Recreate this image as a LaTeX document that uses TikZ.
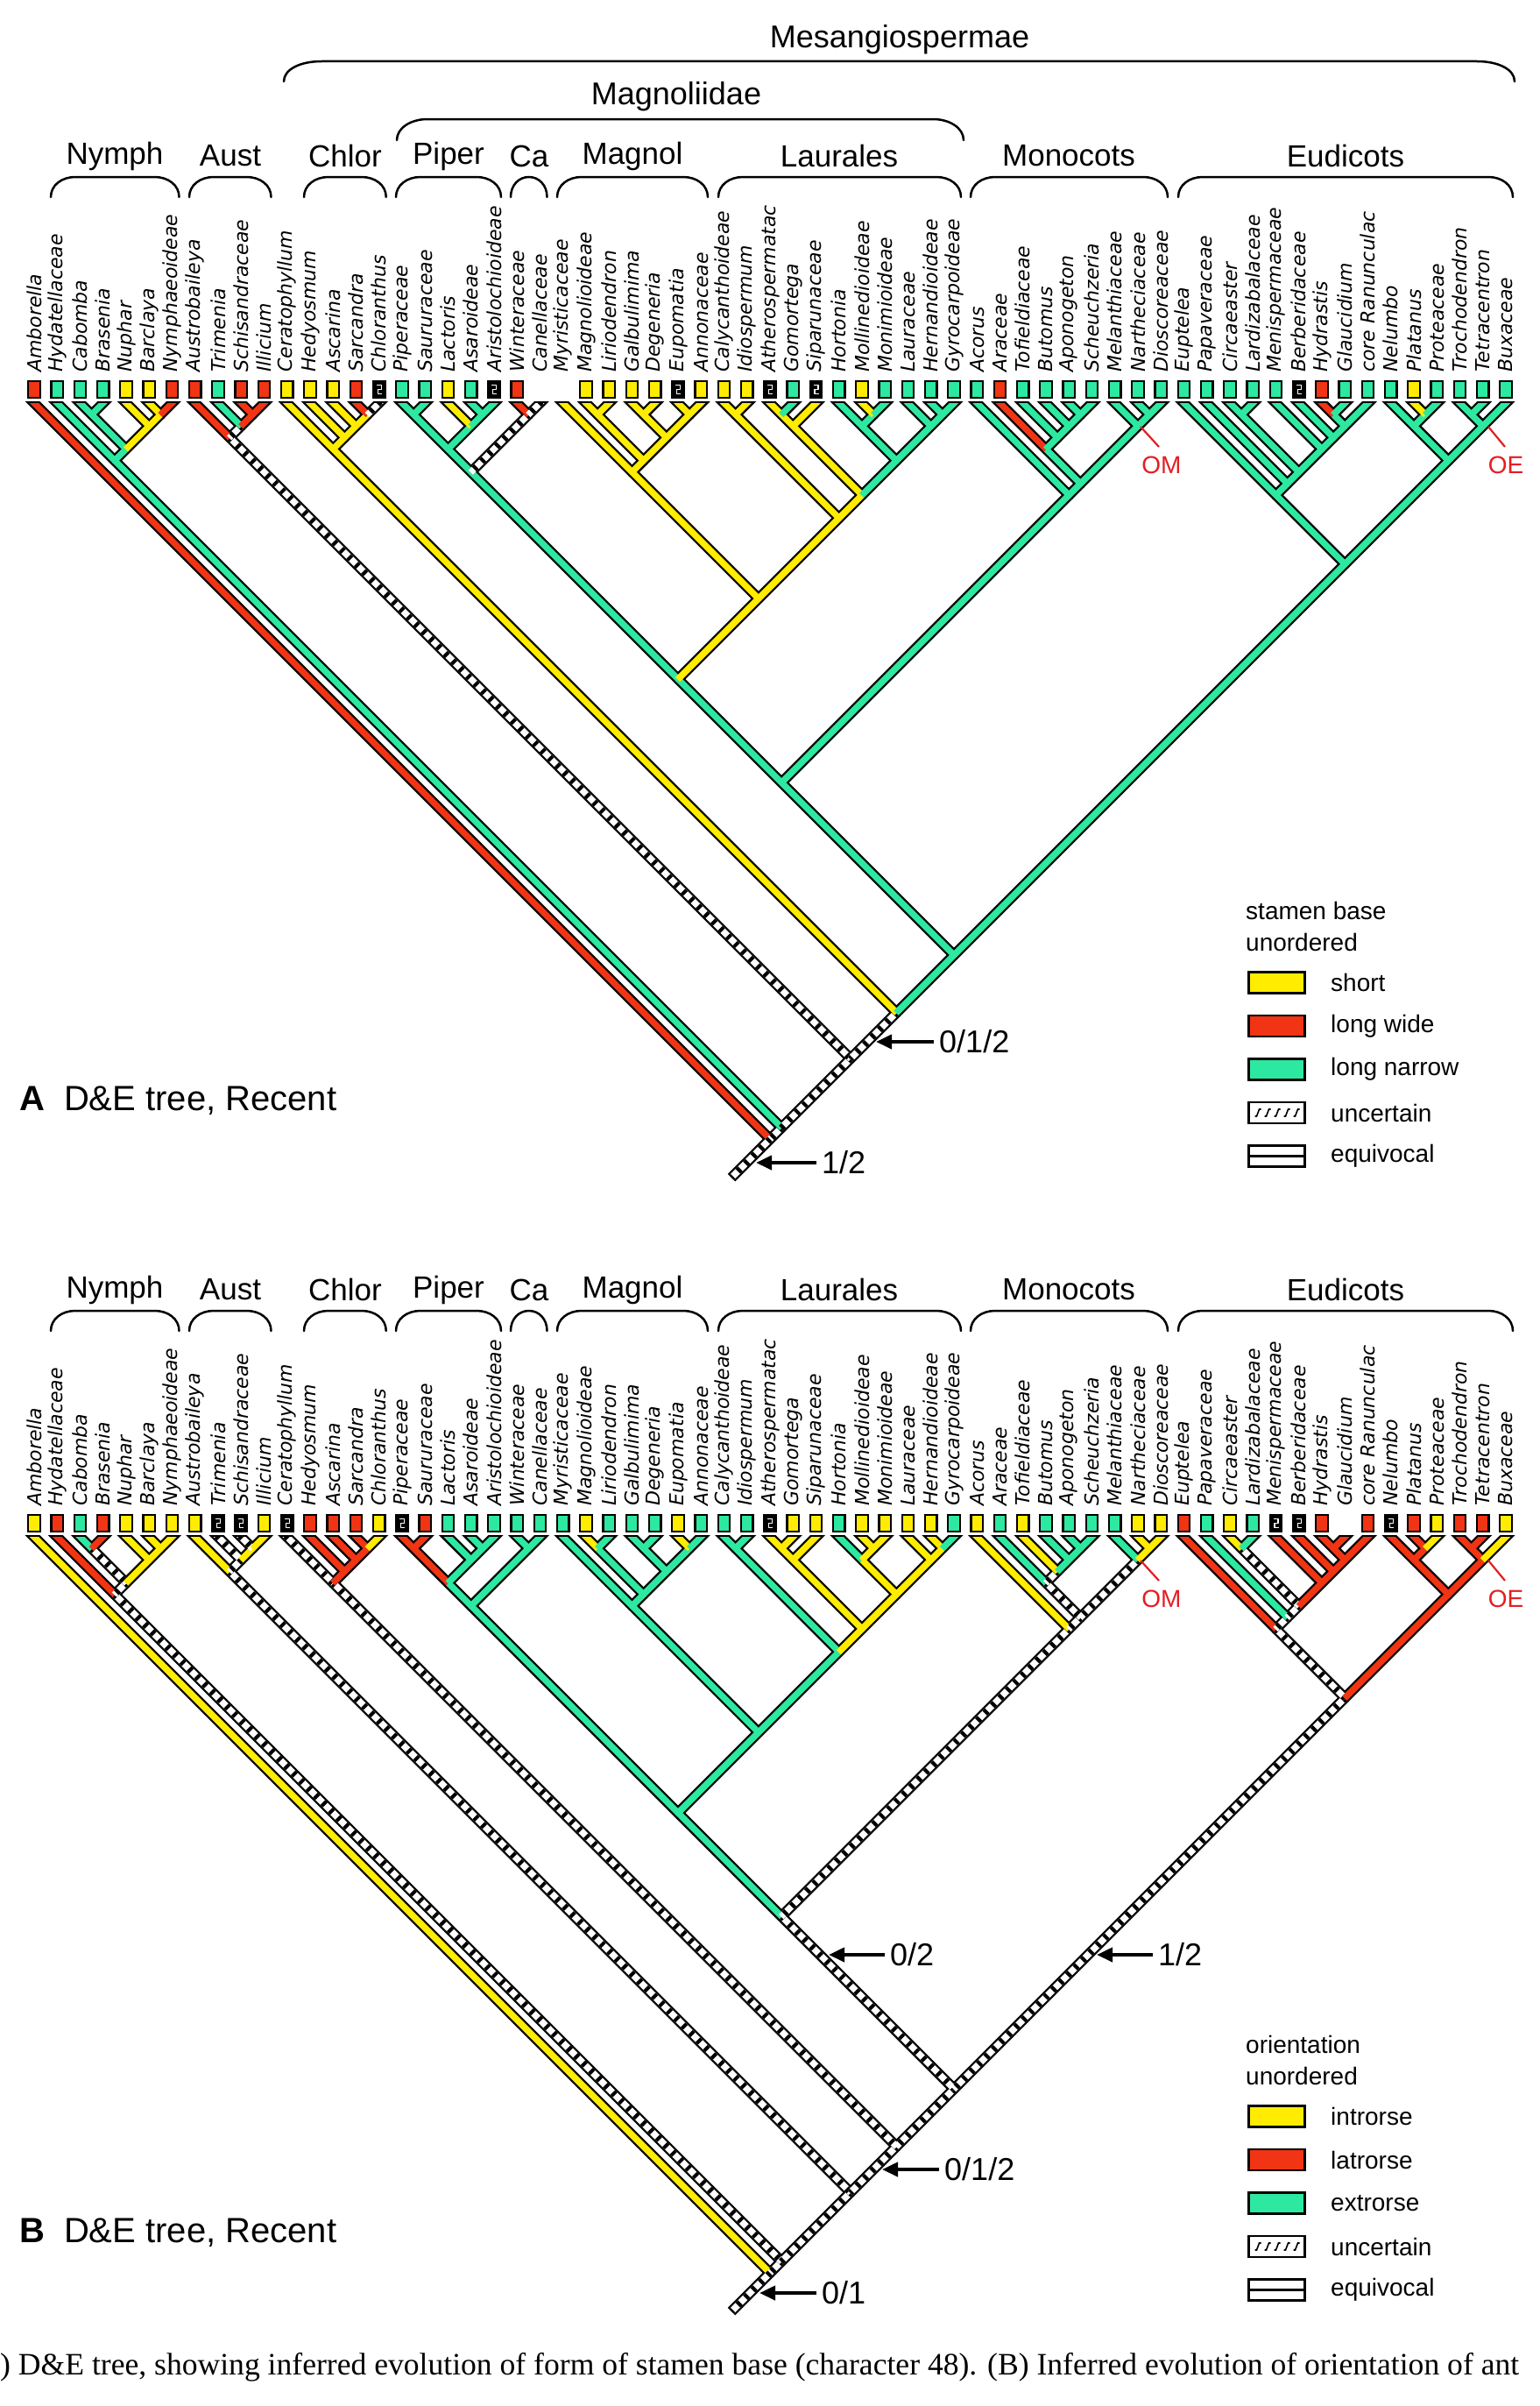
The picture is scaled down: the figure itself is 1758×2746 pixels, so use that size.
\documentclass[tikz,border=0pt]{standalone}
\usepackage{fontspec}
\setmainfont{Liberation Sans}
\newfontfamily\taxfont{DejaVu Sans}
\newfontfamily\capfont{Liberation Serif}
\usetikzlibrary{calc,arrows.meta}
\definecolor{cY}{RGB}{255,236,0}
\definecolor{cR}{RGB}{240,52,20}
\definecolor{cG}{RGB}{45,232,160}
\definecolor{cOM}{RGB}{228,30,36}

\newcommand\mknode[3]{%
  \pgfmathsetmacro\tmpx{39+(#2+#3)*13.125}%
  \pgfmathsetmacro\tmpy{460+(#3-#2)*13.125}%
  \coordinate (#1-#2-#3) at (\tmpx,\tmpy);}

\newcommand\treeA{%
\B{0}{0}{0}{64}{R}\B{1}{64}{0}{64}{H}\B{1}{6}{1}{64}{G}\B{7}{64}{1}{64}{H}
\B{1}{1}{1}{6}{G}\B{2}{6}{1}{6}{G}\B{2}{3}{2}{6}{G}\B{2}{2}{2}{3}{G}\B{3}{3}{2}{3}{G}
\B{4}{6}{2}{6}{Y}\B{4}{4}{4}{6}{Y}\B{5}{6}{4}{6}{Y}\B{5}{5}{5}{6}{Y}\B{6}{6}{5}{6}{R}
\B{7}{10}{7}{64}{H}\B{7}{7}{7}{10}{R}\B{8}{10}{7}{10}{H}\B{8}{8}{8}{10}{G}\B{9}{10}{8}{10}{R}\B{9}{9}{9}{10}{R}\B{10}{10}{9}{10}{R}
\B{11}{64}{7}{64}{H}\B{11}{15}{11}{64}{Y}\B{11}{11}{11}{15}{Y}\B{12}{15}{11}{15}{Y}\B{12}{12}{12}{15}{Y}
\B{13}{15}{12}{15}{Y}\B{13}{13}{13}{15}{Y}\B{14}{15}{13}{15}{Y}\B{14}{14}{14}{15}{R}\B{15}{15}{14}{15}{H}
\B{16}{64}{11}{64}{G}\B{16}{49}{16}{64}{G}\B{16}{40}{16}{49}{G}\B{16}{22}{16}{40}{G}\B{16}{20}{16}{22}{G}
\B{16}{17}{16}{20}{G}\B{16}{16}{16}{17}{G}\B{17}{17}{16}{17}{G}\B{18}{20}{16}{20}{G}\B{18}{18}{18}{20}{Y}
\B{19}{20}{18}{20}{G}\B{19}{19}{19}{20}{G}\B{20}{20}{19}{20}{G}
\B{21}{22}{16}{22}{H}\B{21}{21}{21}{22}{R}\B{22}{22}{21}{22}{H}
\B{23}{40}{16}{40}{Y}\B{23}{29}{23}{40}{Y}\B{23}{23}{23}{29}{Y}\B{24}{29}{23}{29}{Y}\B{24}{25}{24}{29}{Y}
\B{24}{24}{24}{25}{Y}\B{25}{25}{24}{25}{Y}\B{26}{29}{24}{29}{Y}\B{26}{27}{26}{29}{Y}\B{26}{26}{26}{27}{Y}
\B{27}{27}{26}{27}{Y}\B{28}{29}{26}{29}{Y}\B{28}{28}{28}{29}{Y}\B{29}{29}{28}{29}{Y}
\B{30}{40}{23}{40}{Y}\B{30}{31}{30}{40}{Y}\B{30}{30}{30}{31}{Y}\B{31}{31}{30}{31}{Y}\B{32}{40}{30}{40}{Y}
\B{32}{34}{32}{40}{Y}\B{32}{33}{32}{34}{Y}\B{32}{32}{32}{33}{Y}\B{33}{33}{32}{33}{G}\B{34}{34}{32}{34}{Y}
\B{35}{40}{32}{40}{G}\B{35}{37}{35}{40}{G}\B{35}{35}{35}{37}{G}\B{36}{37}{35}{37}{G}\B{36}{36}{36}{37}{Y}
\B{37}{37}{36}{37}{G}\B{38}{40}{35}{40}{G}\B{38}{38}{38}{40}{G}\B{39}{40}{38}{40}{G}\B{39}{39}{39}{40}{G}\B{40}{40}{39}{40}{G}
\B{41}{49}{16}{49}{G}\B{41}{41}{41}{49}{G}\B{42}{49}{41}{49}{G}\B{42}{46}{42}{49}{G}\B{42}{42}{42}{46}{R}
\B{43}{46}{42}{46}{G}\B{43}{43}{43}{46}{G}\B{44}{46}{43}{46}{G}\B{44}{44}{44}{46}{G}\B{45}{46}{44}{46}{G}
\B{45}{45}{45}{46}{G}\B{46}{46}{45}{46}{G}\B{47}{49}{42}{49}{G}\B{47}{47}{47}{49}{G}\B{48}{49}{47}{49}{G}
\B{48}{48}{48}{49}{G}\B{49}{49}{48}{49}{G}
\B{50}{64}{16}{64}{G}\B{50}{58}{50}{64}{G}\B{50}{50}{50}{58}{G}\B{51}{58}{50}{58}{G}\B{51}{51}{51}{58}{G}
\B{52}{58}{51}{58}{G}\B{52}{53}{52}{58}{G}\B{52}{52}{52}{53}{G}\B{53}{53}{52}{53}{G}\B{54}{58}{52}{58}{G}
\B{54}{54}{54}{58}{G}\B{55}{58}{54}{58}{G}\B{55}{55}{55}{58}{G}\B{56}{58}{55}{58}{G}\B{56}{57}{56}{58}{G}
\B{56}{56}{56}{57}{R}\B{57}{57}{56}{57}{G}\B{58}{58}{56}{58}{G}
\B{59}{64}{50}{64}{G}\B{59}{61}{59}{64}{G}\B{59}{59}{59}{61}{G}\B{60}{61}{59}{61}{G}\B{60}{60}{60}{61}{Y}
\B{61}{61}{60}{61}{G}\B{62}{64}{59}{64}{G}\B{62}{63}{62}{64}{G}\B{62}{62}{62}{63}{G}\B{63}{63}{62}{63}{G}\B{64}{64}{62}{64}{G}}

\newcommand\treeB{%
\B{0}{0}{0}{64}{Y}\B{1}{64}{0}{64}{H}\B{1}{6}{1}{64}{H}\B{7}{64}{1}{64}{H}
\B{1}{1}{1}{6}{R}\B{2}{6}{1}{6}{H}\B{2}{3}{2}{6}{H}\B{2}{2}{2}{3}{G}\B{3}{3}{2}{3}{R}
\B{4}{6}{2}{6}{Y}\B{4}{4}{4}{6}{Y}\B{5}{6}{4}{6}{Y}\B{5}{5}{5}{6}{Y}\B{6}{6}{5}{6}{Y}
\B{7}{10}{7}{64}{H}\B{7}{7}{7}{10}{Y}\B{8}{10}{7}{10}{H}\B{8}{8}{8}{10}{H}\B{9}{10}{8}{10}{Y}\B{9}{9}{9}{10}{H}\B{10}{10}{9}{10}{Y}
\B{11}{64}{7}{64}{H}\B{11}{15}{11}{64}{H}\B{11}{11}{11}{15}{H}\B{12}{15}{11}{15}{R}\B{12}{12}{12}{15}{R}
\B{13}{15}{12}{15}{R}\B{13}{13}{13}{15}{R}\B{14}{15}{13}{15}{R}\B{14}{14}{14}{15}{R}\B{15}{15}{14}{15}{Y}
\B{16}{64}{11}{64}{H}\B{16}{49}{16}{64}{H}\B{16}{40}{16}{49}{G}\B{16}{22}{16}{40}{G}\B{16}{20}{16}{22}{G}
\B{16}{17}{16}{20}{R}\B{16}{16}{16}{17}{R}\B{17}{17}{16}{17}{R}\B{18}{20}{16}{20}{G}\B{18}{18}{18}{20}{G}
\B{19}{20}{18}{20}{G}\B{19}{19}{19}{20}{G}\B{20}{20}{19}{20}{G}
\B{21}{22}{16}{22}{G}\B{21}{21}{21}{22}{G}\B{22}{22}{21}{22}{G}
\B{23}{40}{16}{40}{G}\B{23}{29}{23}{40}{G}\B{23}{23}{23}{29}{G}\B{24}{29}{23}{29}{G}\B{24}{25}{24}{29}{G}
\B{24}{24}{24}{25}{Y}\B{25}{25}{24}{25}{G}\B{26}{29}{24}{29}{G}\B{26}{27}{26}{29}{G}\B{26}{26}{26}{27}{G}
\B{27}{27}{26}{27}{G}\B{28}{29}{26}{29}{G}\B{28}{28}{28}{29}{Y}\B{29}{29}{28}{29}{G}
\B{30}{40}{23}{40}{G}\B{30}{31}{30}{40}{G}\B{30}{30}{30}{31}{G}\B{31}{31}{30}{31}{G}\B{32}{40}{30}{40}{Y}
\B{32}{34}{32}{40}{Y}\B{32}{33}{32}{34}{Y}\B{32}{32}{32}{33}{Y}\B{33}{33}{32}{33}{Y}\B{34}{34}{32}{34}{Y}
\B{35}{40}{32}{40}{Y}\B{35}{37}{35}{40}{Y}\B{35}{35}{35}{37}{G}\B{36}{37}{35}{37}{Y}\B{36}{36}{36}{37}{Y}
\B{37}{37}{36}{37}{Y}\B{38}{40}{35}{40}{Y}\B{38}{38}{38}{40}{Y}\B{39}{40}{38}{40}{Y}\B{39}{39}{39}{40}{Y}\B{40}{40}{39}{40}{G}
\B{41}{49}{16}{49}{H}\B{41}{41}{41}{49}{Y}\B{42}{49}{41}{49}{H}\B{42}{46}{42}{49}{H}\B{42}{42}{42}{46}{G}
\B{43}{46}{42}{46}{H}\B{43}{43}{43}{46}{Y}\B{44}{46}{43}{46}{G}\B{44}{44}{44}{46}{G}\B{45}{46}{44}{46}{G}
\B{45}{45}{45}{46}{G}\B{46}{46}{45}{46}{G}\B{47}{49}{42}{49}{H}\B{47}{47}{47}{49}{G}\B{48}{49}{47}{49}{Y}
\B{48}{48}{48}{49}{Y}\B{49}{49}{48}{49}{Y}
\B{50}{64}{16}{64}{H}\B{50}{58}{50}{64}{H}\B{50}{50}{50}{58}{R}\B{51}{58}{50}{58}{H}\B{51}{51}{51}{58}{G}
\B{52}{58}{51}{58}{H}\B{52}{53}{52}{58}{H}\B{52}{52}{52}{53}{Y}\B{53}{53}{52}{53}{G}\B{54}{58}{52}{58}{R}
\B{54}{54}{54}{58}{R}\B{55}{58}{54}{58}{R}\B{55}{55}{55}{58}{R}\B{56}{58}{55}{58}{R}\B{56}{57}{56}{58}{R}
\B{56}{56}{56}{57}{R}\B{57}{57}{56}{57}{R}\B{58}{58}{56}{58}{R}
\B{59}{64}{50}{64}{R}\B{59}{61}{59}{64}{R}\B{59}{59}{59}{61}{R}\B{60}{61}{59}{61}{R}\B{60}{60}{60}{61}{R}
\B{61}{61}{60}{61}{Y}\B{62}{64}{59}{64}{R}\B{62}{63}{62}{64}{R}\B{62}{62}{62}{63}{R}\B{63}{63}{62}{63}{R}\B{64}{64}{62}{64}{Y}}

\newcommand\defnodes[2]{\def\B##1##2##3##4##5{\mknode{#1}{##1}{##2}\mknode{#1}{##3}{##4}}#2%
  \coordinate (#1-stub) at ($(#1-0-64)+(-44,44)$);}
\newcommand\brpass[3]{% prefix, list, style prefix
  \def\B##1##2##3##4##5{%
    \ifnum##1=##2\relax
      \draw[#3##5] ($(#1-##1-##2)!-14pt!(#1-##3-##4)$) -- ($(#1-##3-##4)!-0.6pt!(#1-##1-##2)$);
    \else
      \draw[#3##5] (#1-##1-##2) -- ($(#1-##3-##4)!-0.6pt!(#1-##1-##2)$);
    \fi}#2%
  \draw[#3H] (#1-0-64) -- (#1-stub);}

\newcommand\grpbrace[4]{%
  \pgfmathsetmacro\rr{min(28,(#2-#1)/2)}%
  \pgfmathsetmacro\cyy{#4-0.6*(#4-#3)}%
  \pgfmathsetmacro\aL{#1+0.45*\rr}\pgfmathsetmacro\bL{#1+\rr}%
  \pgfmathsetmacro\aR{#2-0.45*\rr}\pgfmathsetmacro\bR{#2-\rr}%
  \draw[bracestyle] (#1,#4) .. controls (#1,\cyy) and (\aL,#3) .. (\bL,#3)
     -- (\bR,#3) .. controls (\aR,#3) and (#2,\cyy) .. (#2,#4);}

\newcommand\panelparts[1]{%
  \grpbrace{58}{204.5}{202}{225}\node[grp] (#1g1) at (131,178) {Nymph};
  \grpbrace{216}{309.5}{202}{225}\node[grp] (#1g2) at (263,178) {Aust};
  \grpbrace{347}{440.75}{202}{225}\node[grp] (#1g3) at (394,178) {Chlor};
  \grpbrace{452}{572}{202}{225}\node[grp] (#1g4) at (512,178) {Piper};
  \grpbrace{583}{624.5}{202}{225}\node[grp] (#1g5) at (604,178) {Ca};
  \grpbrace{636}{808}{202}{225}\node[grp] (#1g6) at (722,178) {Magnol};
  \grpbrace{820}{1097}{202}{225}\node[grp] (#1g7) at (958,178) {Laurales};
  \grpbrace{1108}{1333}{202}{225}\node[grp] (#1g8) at (1220,178) {Monocots};
  \grpbrace{1345}{1727}{202}{225}\node[grp] (#1g9) at (1536,178) {Eudicots};
  \coordinate (#1omt) at (1302,487); \coordinate (#1omb) at (1323,510);
  \draw[omline] (#1omt) -- (#1omb);
  \node[omlbl] (#1om) at (1326,531) {OM};
  \coordinate (#1oet) at (1699,487); \coordinate (#1oeb) at (1718,510);
  \draw[omline] (#1oet) -- (#1oeb);
  \node[omlbl] (#1oe) at (1719,531) {OE};
}

\newcommand\legend[6]{% prefix, title1, t2, l1..l3
  \node[legtxt] (#1lt1) at (1422,1039) {#2};
  \node[legtxt] (#1lt2) at (1422,1075) {#3};
  \node[legbox, fill=cY] (#1lb1) at (1457.5,1121.5) {}; \node[legtxt] (#1ll1) at (1519,1121.5) {#4};
  \node[legbox, fill=cR] (#1lb2) at (1457.5,1171) {}; \node[legtxt] (#1ll2) at (1519,1171) {#5};
  \node[legbox, fill=cG] (#1lb3) at (1457.5,1220.5) {}; \node[legtxt] (#1ll3) at (1519,1220.5) {#6};
  \node[legbox, fill=white, path picture={
      \foreach \k in {-2,...,2}{
        \draw[black, line width=1.6pt] ([shift={(\k*11-3,4)}]path picture bounding box.center) -- ([shift={(\k*11-1,4)}]path picture bounding box.center)
          -- ([shift={(\k*11+2,-4)}]path picture bounding box.center) -- ([shift={(\k*11+4,-4)}]path picture bounding box.center);}
    }] (#1lb4) at (1457.5,1270) {}; \node[legtxt] (#1ll4) at (1519,1270) {uncertain};
  \node[legbox, fill=white, path picture={
      \draw[black, line width=2.6pt] (path picture bounding box.west) -- (path picture bounding box.east);}
    ] (#1lb5) at (1457.5,1319.5) {}; \node[legtxt] (#1ll5) at (1519,1319.5) {equivocal};
}

\begin{document}
\begin{tikzpicture}[x=1pt,y=-1pt,
  outerb/.style={draw=black, line width=12pt},
  brR/.style={draw=cR, line width=7.4pt},
  brG/.style={draw=cG, line width=7.4pt},
  brY/.style={draw=cY, line width=7.4pt},
  brH/.style={draw=black, line width=7.4pt, dash pattern=on 4pt off 8pt,
              preaction={draw=white, solid, line width=7.4pt}},
  outerbR/.style={outerb}, outerbG/.style={outerb}, outerbY/.style={outerb}, outerbH/.style={outerb},
  taxlbl/.style={anchor=west, rotate=90, inner sep=0pt, font=\taxfont\itshape\fontsize{22}{24}\selectfont},
  tipbox/.style={draw=black, line width=2.2pt, minimum width=13.5pt, minimum height=19.5pt, inner sep=0pt},
  box R/.style={fill=cR}, box G/.style={fill=cG}, box Y/.style={fill=cY}, box N/.style={draw=none},
  box U/.style={fill=black, path picture={
     \draw[white, line width=1.3pt, line join=round]
       ([shift={(-3,-5)}]path picture bounding box.center) -- ([shift={(2.5,-5)}]path picture bounding box.center)
       -- ([shift={(2.5,0)}]path picture bounding box.center) -- ([shift={(-1.5,0)}]path picture bounding box.center)
       -- ([shift={(-1.5,5)}]path picture bounding box.center) -- ([shift={(3,5)}]path picture bounding box.center);}},
  grp/.style={inner sep=0pt, font=\fontsize{35}{40}\selectfont},
  bracestyle/.style={draw=black, line width=2.5pt, line cap=round},
  omline/.style={draw=cOM, line width=2.2pt},
  omlbl/.style={inner sep=0pt, text=cOM, font=\fontsize{28}{30}\selectfont},
  legtxt/.style={anchor=west, inner sep=0pt, font=\fontsize{28}{32}\selectfont},
  legbox/.style={draw=black, line width=2.4pt, minimum width=64pt, minimum height=24pt, inner sep=0pt},
  arlbl/.style={anchor=west, inner sep=0pt, font=\fontsize{36}{40}\selectfont},
  bigarrow/.style={line width=4pt, -{Triangle[length=18pt,width=16pt]}},
  paneltitle/.style={anchor=west, inner sep=0pt, font=\fontsize{40}{44}\selectfont}
]
\useasboundingbox (0,0) rectangle (1758,2746);
\fill[white] (0,0) rectangle (1758,2746);

% ===== top braces (panel A only)
\draw[bracestyle] (324,93) .. controls (324,79) and (343,70) .. (367,70) -- (1686,70) .. controls (1710,70) and (1729,79) .. (1729,93);
\node[grp, font=\fontsize{36}{40}\selectfont] (mesa) at (1027,45) {Mesangiospermae};
\draw[bracestyle] (453,160) .. controls (453,146) and (469,136) .. (488,136) -- (1065,136) .. controls (1084,136) and (1100,146) .. (1100,160);
\node[grp, font=\fontsize{36}{40}\selectfont] (magn) at (772,110) {Magnoliidae};

% ===== taxon labels and tip boxes for both panels
\foreach \nm/\sa/\sb [count=\i from 0] in {
Amborella/R/Y, Hydatellaceae/G/R, Cabomba/G/G, Brasenia/G/R, Nuphar/Y/Y, Barclaya/Y/Y, Nymphaeoideae/R/Y,
Austrobaileya/R/Y, Trimenia/G/U, Schisandraceae/R/U, Illicium/R/Y,
Ceratophyllum/Y/U, Hedyosmum/Y/R, Ascarina/Y/R, Sarcandra/R/R, Chloranthus/U/Y,
Piperaceae/G/U, Saururaceae/G/R, Lactoris/Y/G, Asaroideae/G/G, Aristolochioideae/U/G,
Winteraceae/R/G, Canellaceae/N/G,
Myristicaceae/N/G, Magnolioideae/Y/Y, Liriodendron/Y/G, Galbulimima/Y/G, Degeneria/Y/G, Eupomatia/U/Y, Annonaceae/Y/G,
Calycanthoideae/Y/G, Idiospermum/Y/G, Atherospermatac/U/U, Gomortega/G/Y, Siparunaceae/U/Y, Hortonia/G/G,
Mollinedioideae/Y/Y, Monimioideae/G/Y, Lauraceae/G/Y, Hernandioideae/G/Y, Gyrocarpoideae/G/G,
Acorus/G/Y, Araceae/R/G, Tofieldiaceae/G/Y, Butomus/G/G, Aponogeton/G/G, Scheuchzeria/G/G, Melanthiaceae/G/G,
Nartheciaceae/G/Y, Dioscoreaceae/G/Y,
Euptelea/G/R, Papaveraceae/G/G, Circaeaster/G/Y, Lardizabalaceae/G/G, Menispermaceae/G/U, Berberidaceae/U/U,
Hydrastis/R/R, Glaucidium/G/N, core Ranunculac/G/R, Nelumbo/G/U, Platanus/Y/R, Proteaceae/G/Y,
Trochodendron/G/R, Tetracentron/G/R, Buxaceae/G/Y}{
  \pgfmathsetmacro\xx{39+\i*26.25}
  \node[taxlbl] (lA-\i) at (\xx,425) {\nm};
  \node[tipbox, box \sa] (bA-\i) at (\xx,444.5) {};
  \node[taxlbl] (lB-\i) at (\xx,1719) {\nm};
  \node[tipbox, box \sb] (bB-\i) at (\xx,1738.5) {};
}

% ===== Panel A
\defnodes{A}{\treeA}
\begin{scope}
  \clip (0,458) rectangle (1758,1400);
  \brpass{A}{\treeA}{outerb}
\end{scope}
\begin{scope}
  \clip (0,460.8) rectangle (1758,1400);
  \brpass{A}{\treeA}{br}
\end{scope}
\panelparts{A}
\legend{A}{stamen base}{unordered}{short}{long wide}{long narrow}
\node[paneltitle] (titA) at (22,1256) {\textbf{A}\hspace{22pt}D\&E tree, Recent};
\node[arlbl] (arA1) at (1072,1189) {0/1/2};
\coordinate (arA1t) at (1000,1189);
\draw[bigarrow] ([xshift=-6pt]arA1.west) -- (arA1t);
\node[arlbl] (arA2) at (938,1327) {1/2};
\coordinate (arA2t) at (863,1327);
\draw[bigarrow] ([xshift=-6pt]arA2.west) -- (arA2t);

% ===== Panel B
\begin{scope}[yshift=-1294pt]
\defnodes{B}{\treeB}
\begin{scope}
  \clip (0,458) rectangle (1758,1400);
  \brpass{B}{\treeB}{outerb}
\end{scope}
\begin{scope}
  \clip (0,460.8) rectangle (1758,1400);
  \brpass{B}{\treeB}{br}
\end{scope}
\panelparts{B}
\legend{B}{orientation}{unordered}{introrse}{latrorse}{extrorse}
\node[paneltitle] (titB) at (22,1254) {\textbf{B}\hspace{22pt}D\&E tree, Recent};
\node[arlbl] (arB1) at (1016,937) {0/2};
\coordinate (arB1t) at (946,937);
\draw[bigarrow] ([xshift=-6pt]arB1.west) -- (arB1t);
\node[arlbl] (arB2) at (1322,937) {1/2};
\coordinate (arB2t) at (1252,937);
\draw[bigarrow] ([xshift=-6pt]arB2.west) -- (arB2t);
\node[arlbl] (arB3) at (1078,1182) {0/1/2};
\coordinate (arB3t) at (1007,1182);
\draw[bigarrow] ([xshift=-6pt]arB3.west) -- (arB3t);
\node[arlbl] (arB4) at (938,1323) {0/1};
\coordinate (arB4t) at (867,1323);
\draw[bigarrow] ([xshift=-6pt]arB4.west) -- (arB4t);
\end{scope}

% ===== caption (cut at both sides)
\begin{scope}
\clip (0,0) rectangle (1758,2746);
\node[anchor=west, inner sep=0pt, font=\capfont\fontsize{35.6}{40}\selectfont] (cap) at (0,2702)
  {) D\&E tree, showing inferred evolution of form of stamen base (character 48). (B) Inferred evolution of orientation of ant};
\end{scope}
\end{tikzpicture}
\end{document}
